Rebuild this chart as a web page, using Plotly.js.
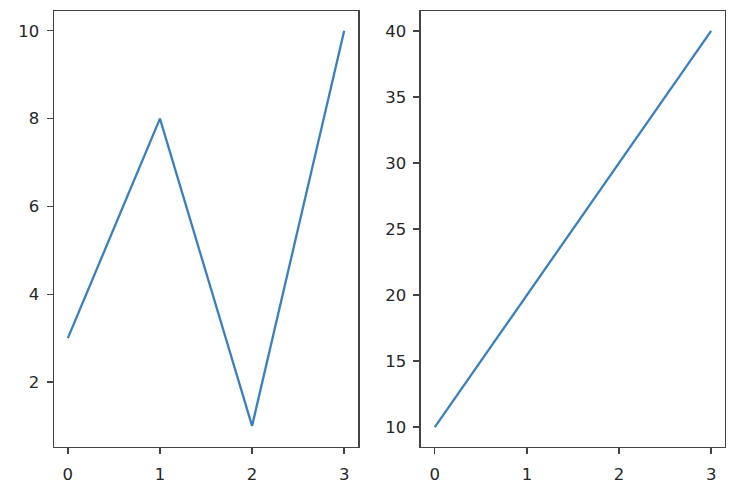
<!DOCTYPE html>
<html><head><meta charset="utf-8">
<script src="https://cdn.plot.ly/plotly-3.0.1.min.js"></script>
<style>html,body{margin:0;padding:0;background:#fff;}#plot{width:746px;height:492px;}</style>
</head><body><div id="plot"></div>
<script>
const xValues = [0, 1, 2, 3];
const leftValues = [3, 8, 1, 10];
const rightValues = [10, 20, 30, 40];
const leftYTicks = [2, 4, 6, 8, 10];
const rightYTicks = [10, 15, 20, 25, 30, 35, 40];
const xTicks = [0, 1, 2, 3];

const lineColor = '#3a7fbe';
const frame = '#444444';
const font = {family: 'DejaVu Sans', size: 16.5, color: '#262626'};

function axisX(domain, anchor) {
  return {domain: domain, anchor: anchor, range: [-0.15, 3.15], tickvals: xTicks,
    ticks: 'outside', ticklen: 6, tickwidth: 1.4, tickcolor: frame,
    ticklabelstandoff: 6,
    showline: true, mirror: true, linecolor: frame, linewidth: 1.5,
    showgrid: false, zeroline: false, tickfont: font, fixedrange: true};
}
function axisY(range, tickvals, anchor) {
  return {domain: [0.0915, 0.9776], anchor: anchor, range: range, tickvals: tickvals,
    ticks: 'outside', ticklen: 6, tickwidth: 1.4, tickcolor: frame,
    ticklabelstandoff: 4,
    showline: true, mirror: true, linecolor: frame, linewidth: 1.5,
    showgrid: false, zeroline: false, tickfont: font, fixedrange: true};
}

const data = [
  {x: xValues, y: leftValues, type: 'scatter', mode: 'lines', xaxis: 'x', yaxis: 'y',
   line: {color: lineColor, width: 2.3}, showlegend: false},
  {x: xValues, y: rightValues, type: 'scatter', mode: 'lines', xaxis: 'x2', yaxis: 'y2',
   line: {color: lineColor, width: 2.3}, showlegend: false}
];
const layout = {
  width: 746, height: 492,
  margin: {l: 0, r: 0, t: 0, b: 0},
  paper_bgcolor: '#fff', plot_bgcolor: '#fff',
  xaxis: axisX([0.0724, 0.4799], 'y'),
  yaxis: axisY([0.52, 10.45], leftYTicks, 'x'),
  xaxis2: axisX([0.5643, 0.9718], 'y2'),
  yaxis2: axisY([8.5, 41.5], rightYTicks, 'x2'),
  font: font
};
Plotly.newPlot('plot', data, layout, {displayModeBar: false, staticPlot: true});
</script></body></html>
